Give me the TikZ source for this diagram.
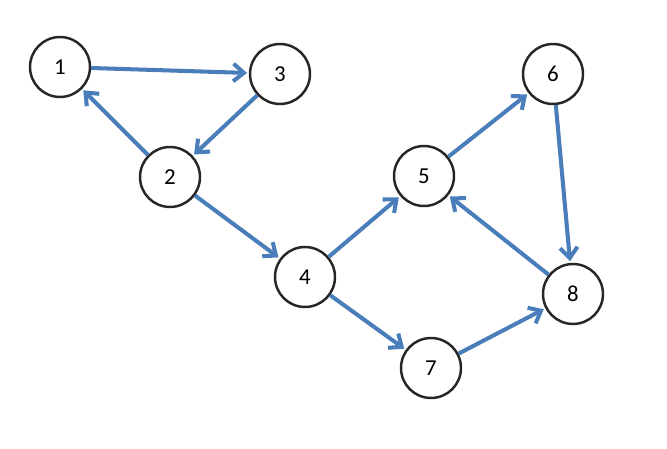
\documentclass[tikz,border=0pt]{standalone}
\usepackage{fontspec}
\setmainfont{Carlito}
\usetikzlibrary{arrows.meta}
\definecolor{arr}{HTML}{4A7EBB}
\begin{document}
\begin{tikzpicture}[x=0.02cm,y=-0.02cm,
  vert/.style={circle,draw=black!85,line width=1.4pt,minimum size=0.6cm*2,inner sep=0pt,font=\fontsize{13pt}{15pt}\selectfont,fill=white},
  edge/.style={draw=arr,line width=2.3pt,-{Straight Barb[length=6pt,width=10pt]},shorten >=1pt}]
\useasboundingbox (0,0) rectangle (667,449);
\node[vert] (n1) at (60,67) {1};
\node[vert] (n3) at (280,74) {3};
\node[vert] (n2) at (170,177) {2};
\node[vert] (n4) at (305,277) {4};
\node[vert] (n5) at (424,176) {5};
\node[vert] (n6) at (553,74) {6};
\node[vert] (n8) at (573,294) {8};
\node[vert] (n7) at (431,368) {7};
\draw[edge] (n1) -- (n3);
\draw[edge] (n3) -- (n2);
\draw[edge] (n2) -- (n1);
\draw[edge] (n2) -- (n4);
\draw[edge] (n4) -- (n5);
\draw[edge] (n5) -- (n6);
\draw[edge] (n6) -- (n8);
\draw[edge] (n8) -- (n5);
\draw[edge] (n4) -- (n7);
\draw[edge] (n7) -- (n8);
\end{tikzpicture}
\end{document}
